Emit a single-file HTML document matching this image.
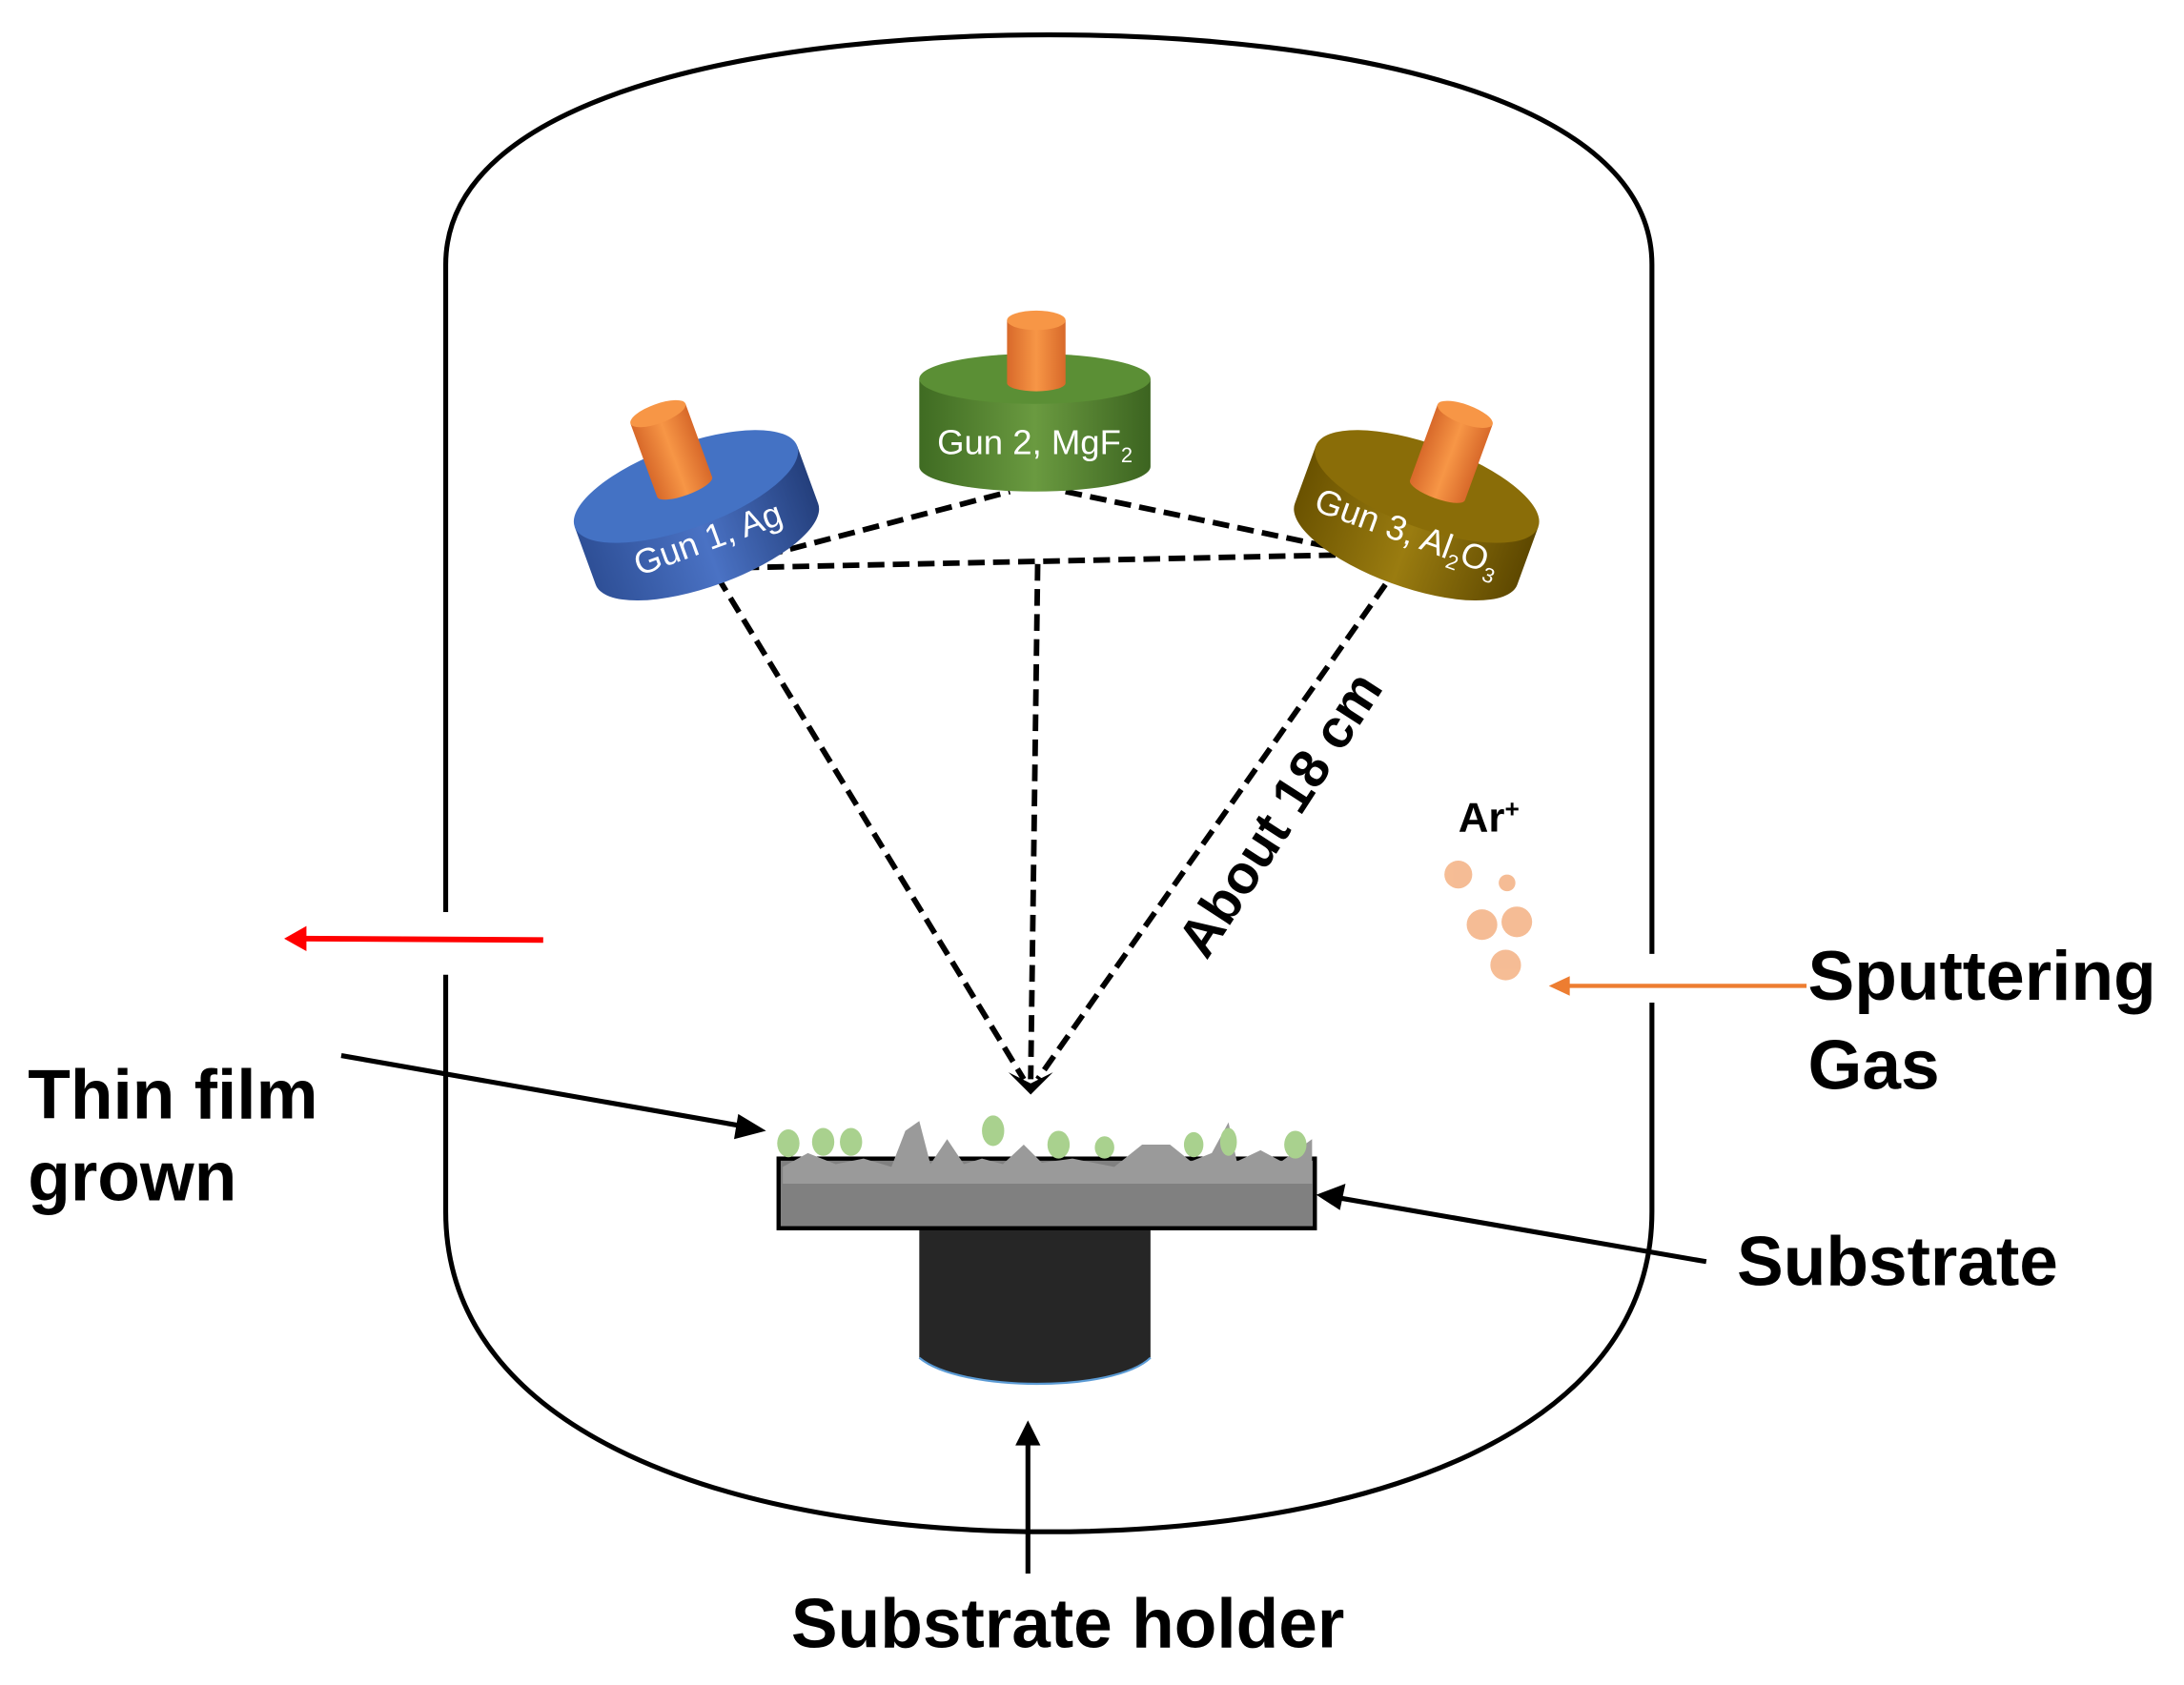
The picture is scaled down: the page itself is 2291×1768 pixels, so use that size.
<!DOCTYPE html>
<html><head><meta charset="utf-8"><style>
html,body{margin:0;padding:0;background:#fff}
svg{display:block}
text{font-family:"Liberation Sans",sans-serif;font-weight:bold}
</style></head><body>
<svg width="2291" height="1768" viewBox="0 0 1568 1210" xmlns="http://www.w3.org/2000/svg">
<defs>
<linearGradient id="gb" x1="0" x2="1"><stop offset="0" stop-color="#2e4f96"/><stop offset=".5" stop-color="#4a72c4"/><stop offset="1" stop-color="#243f7c"/></linearGradient>
<linearGradient id="gg" x1="0" x2="1"><stop offset="0" stop-color="#3f6b22"/><stop offset=".5" stop-color="#6a9a40"/><stop offset="1" stop-color="#3c6420"/></linearGradient>
<linearGradient id="go" x1="0" x2="1"><stop offset="0" stop-color="#6a5200"/><stop offset=".5" stop-color="#9a7c10"/><stop offset="1" stop-color="#5e4800"/></linearGradient>
<linearGradient id="gr" x1="0" x2="1"><stop offset="0" stop-color="#d8692a"/><stop offset=".5" stop-color="#f79646"/><stop offset="1" stop-color="#d8692a"/></linearGradient>
</defs>
<path d="M320,655 L320,190 C320,70 540,25 753,25 C966,25 1186,70 1186,190 L1186,685" fill="none" stroke="#000" stroke-width="3.5"/>
<path d="M1186,720 L1186,870 C1186,1030 980,1100 753,1100 C526,1100 320,1030 320,870 L320,700" fill="none" stroke="#000" stroke-width="3.5"/>
<line x1="390" y1="675" x2="215" y2="674" stroke="#f00" stroke-width="4"/>
<polygon points="204,674 220,665 220,683" fill="#f00"/>
<line x1="1297" y1="708" x2="1125" y2="708" stroke="#ed7d31" stroke-width="3"/>
<polygon points="1112,708 1127,701 1127,715" fill="#ed7d31"/>
<g stroke="#000" stroke-width="4" stroke-dasharray="12 6" fill="none">
<line x1="515" y1="408" x2="725" y2="353"/>
<line x1="765" y1="353" x2="980" y2="398"/>
<line x1="515" y1="408" x2="985" y2="398"/>
<line x1="515" y1="414" x2="735" y2="775"/>
<line x1="745" y1="405" x2="740" y2="775"/>
<line x1="1005" y1="405" x2="745" y2="775"/>
</g>
<polygon points="724,770 740,786 756,770 740,778" fill="#000"/>
<g>
<path d="M660,272 L660,335 A83,18 0 0 0 826,335 L826,272 Z" fill="url(#gg)"/>
<ellipse cx="743" cy="272" rx="83" ry="18" fill="#5b8f35"/>
<path d="M723,230 L723,275 A21,6 0 0 0 765,275 L765,230 Z" fill="url(#gr)"/>
<ellipse cx="744" cy="230" rx="21" ry="7" fill="#f79646"/>
<text x="743" y="326" font-size="25" fill="#fff" text-anchor="middle" style="font-weight:normal">Gun 2, MgF<tspan font-size="15" dy="6">2</tspan></text>
</g>
<g transform="rotate(-20 500 370)">
<path d="M415,348 L415,392 A85,30 0 0 0 585,392 L585,348 Z" fill="url(#gb)"/>
<ellipse cx="500" cy="348" rx="85" ry="30" fill="#4472c4"/>
<path d="M478,292 L478,348 A21,6 0 0 0 520,348 L520,292 Z" fill="url(#gr)"/>
<ellipse cx="499" cy="292" rx="21" ry="7" fill="#f79646"/>
<text x="502" y="397" font-size="25" fill="#fff" text-anchor="middle" style="font-weight:normal">Gun 1, Ag</text>
</g>
<g transform="rotate(20 1017 370)">
<path d="M932,348 L932,392 A85,30 0 0 0 1102,392 L1102,348 Z" fill="url(#go)"/>
<ellipse cx="1017" cy="348" rx="85" ry="30" fill="#8a6d08"/>
<path d="M1004,290 L1004,348 A21,6 0 0 0 1046,348 L1046,290 Z" fill="url(#gr)"/>
<ellipse cx="1025" cy="290" rx="21" ry="7" fill="#f79646"/>
<text x="1015" y="392" font-size="25" fill="#fff" text-anchor="middle" style="font-weight:normal">Gun 3, Al<tspan font-size="15" dy="6">2</tspan><tspan dy="-6">O</tspan><tspan font-size="15" dy="6">3</tspan></text>
</g>
<text x="930" y="592" font-size="39" fill="#000" text-anchor="middle" transform="rotate(-57 930 592)">About 18 cm</text>
<text x="1047" y="597" font-size="30" fill="#000">Ar<tspan font-size="18" dy="-10">+</tspan></text>
<g fill="#f4b183" opacity=".85">
<circle cx="1047" cy="628" r="10"/><circle cx="1082" cy="634" r="6"/>
<circle cx="1064" cy="664" r="11"/><circle cx="1089" cy="662" r="11"/><circle cx="1081" cy="693" r="11"/>
</g>
<path d="M660,882 L660,975 C690,1000 800,1000 826,975 L826,882 Z" fill="#262626"/>
<path d="M660,975 C690,1000 800,1000 826,975" fill="none" stroke="#5b9bd5" stroke-width="1.5"/>
<rect x="559" y="832" width="385" height="50" fill="#808080" stroke="#000" stroke-width="3"/>
<path d="M562,838 L580,828 L600,836 L620,832 L640,838 L650,812 L660,805 L668,836 L680,818 L692,836 L705,832 L720,836 L735,822 L748,835 L770,832 L800,838 L820,822 L840,822 L855,834 L870,828 L882,806 L888,834 L905,826 L920,834 L942,818 L942,850 L562,850 Z" fill="#9a9a9a"/>
<g fill="#a9d18e">
<ellipse cx="566" cy="821" rx="8" ry="10"/><ellipse cx="591" cy="820" rx="8" ry="10"/><ellipse cx="611" cy="820" rx="8" ry="10"/>
<ellipse cx="713" cy="812" rx="8" ry="11"/><ellipse cx="760" cy="822" rx="8" ry="10"/><ellipse cx="793" cy="824" rx="7" ry="8"/>
<ellipse cx="857" cy="822" rx="7" ry="9"/><ellipse cx="882" cy="820" rx="6" ry="10"/><ellipse cx="930" cy="822" rx="8" ry="10"/>
</g>
<g stroke="#000" stroke-width="3.5" fill="none">
<line x1="245" y1="758" x2="535" y2="809"/>
<line x1="1225" y1="906" x2="960" y2="860"/>
<line x1="738" y1="1130" x2="738" y2="1035"/>
</g>
<polygon points="550,812 530,800 527,818" fill="#000"/>
<polygon points="945,858 966,850 962,869" fill="#000"/>
<polygon points="738,1020 729,1038 747,1038" fill="#000"/>
<g font-size="50" fill="#000">
<text x="20" y="803">Thin film</text>
<text x="20" y="862">grown</text>
<text x="1298" y="718">Sputtering</text>
<text x="1298" y="782">Gas</text>
<text x="1247" y="923">Substrate</text>
<text x="568" y="1183">Substrate holder</text>
</g>
</svg>
</body></html>
